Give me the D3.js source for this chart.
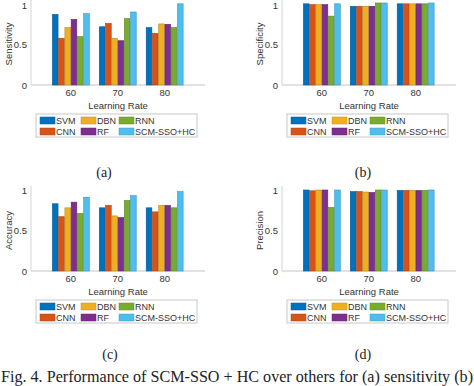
<!DOCTYPE html>
<html>
<head>
<meta charset="utf-8">
<script src="https://cdn.jsdelivr.net/npm/d3@7"></script>
<style>
	body { margin: 0; background: #fff; }
	svg { display: block; }
</style>
</head>
<body>
<div id="chart"></div>
<script>
// learning rates on the x axis
var rates = [60, 70, 80];
var methods = ["SVM", "CNN", "DBN", "RF", "RNN", "SCM-SSO+HC"];
var methodColors = ["#0072BD", "#D95319", "#EDB120", "#7E2F8E", "#77AC30", "#4DBEEE"];
var yTicks = [0, 0.5, 1];

// one row per learning rate, one value per method
var sensitivity = [
	[0.86, 0.57, 0.70, 0.80, 0.59, 0.87],
	[0.71, 0.75, 0.57, 0.54, 0.81, 0.89],
	[0.70, 0.63, 0.745, 0.74, 0.70, 0.99]
];
var specificity = [
	[0.99, 0.98, 0.98, 0.98, 0.84, 0.99],
	[0.96, 0.96, 0.96, 0.96, 1.0, 1.0],
	[0.99, 0.99, 0.99, 0.99, 0.99, 1.0]
];
var accuracy = [
	[0.83, 0.67, 0.78, 0.85, 0.71, 0.91],
	[0.78, 0.81, 0.68, 0.66, 0.87, 0.93],
	[0.78, 0.73, 0.81, 0.81, 0.78, 0.98]
];
var precision = [
	[1.0, 0.99, 1.0, 1.0, 0.785, 1.0],
	[0.98, 0.98, 0.975, 0.97, 1.0, 1.0],
	[0.995, 0.995, 0.995, 0.995, 0.995, 1.0]
];

var panelNames = ["Sensitivity", "Specificity", "Accuracy", "Precision"];
var panelTags = ["(a)", "(b)", "(c)", "(d)"];
var caption = "Fig. 4.   Performance of SCM-SSO + HC over others for (a) sensitivity (b)";

var width = 474, height = 386;
var sans = "'Liberation Sans', Arial, sans-serif";
var serif = "'Liberation Serif', 'Times New Roman', serif";

var svg = d3.select("#chart").append("svg")
	.attr("width", width)
	.attr("height", height);

var panels = [
	{data: sensitivity, left: 31, top: 3, bottom: 85, tagX: 104, tagY: 177},
	{data: specificity, left: 282, top: 3, bottom: 85, tagX: 363, tagY: 177},
	{data: accuracy, left: 31, top: 190, bottom: 271, tagX: 110, tagY: 359},
	{data: precision, left: 282, top: 190, bottom: 271, tagX: 363, tagY: 359}
];

panels.forEach(function(p, k) {
	drawPanel(p, panelNames[k], panelTags[k]);
});

svg.append("text")
	.attr("x", 1)
	.attr("y", 382)
	.attr("font-family", serif)
	.attr("font-size", "16px")
	.attr("fill", "#222")
	.attr("textLength", 472)
	.attr("lengthAdjust", "spacingAndGlyphs")
	.text(caption);

function drawPanel(p, name, tag) {
	var axW = 174;
	var x = d3.scaleLinear().domain([51.5, 88.6]).range([p.left, p.left + axW]);
	var y = d3.scaleLinear().domain([0, 1]).range([p.bottom, p.top]);
	var slot = 8 / methods.length;
	var g = svg.append("g");

	// axis lines
	g.append("line")
		.attr("x1", p.left).attr("x2", p.left + axW)
		.attr("y1", p.bottom).attr("y2", p.bottom)
		.attr("stroke", "#c4c4c4").attr("stroke-width", 1);
	g.append("line")
		.attr("x1", p.left).attr("x2", p.left)
		.attr("y1", p.bottom).attr("y2", p.top - 4)
		.attr("stroke", "#d4d4d4").attr("stroke-width", 1);

	// bars
	var groups = g.selectAll("g.grp")
		.data(p.data)
		.enter().append("g")
		.attr("class", "grp");

	groups.selectAll("rect")
		.data(function(d, gi) {
			return d.map(function(v, i) { return {rate: rates[gi], v: v, i: i}; });
		})
		.enter().append("rect")
		.attr("x", function(d) { return x(d.rate - 4 + d.i * slot) + 0.3; })
		.attr("width", function(d) { return x(d.rate - 4 + (d.i + 1) * slot) - x(d.rate - 4 + d.i * slot) - 0.6; })
		.attr("y", function(d) { return y(d.v); })
		.attr("height", function(d) { return y(0) - y(d.v); })
		.attr("fill", function(d) { return methodColors[d.i]; })
		.attr("stroke", function(d) { return d3.color(methodColors[d.i]).darker(0.7); })
		.attr("stroke-width", 0.6);

	// tick labels
	g.selectAll("text.xt")
		.data(rates)
		.enter().append("text")
		.attr("class", "xt")
		.attr("x", function(d) { return x(d); })
		.attr("y", p.bottom + 11)
		.attr("text-anchor", "middle")
		.attr("font-family", sans)
		.attr("font-size", "9.5px")
		.attr("fill", "#333")
		.text(function(d) { return d; });

	g.selectAll("text.yt")
		.data(yTicks)
		.enter().append("text")
		.attr("class", "yt")
		.attr("x", p.left - 4)
		.attr("y", function(d) { return Math.max(y(d) + 3.5, 8.5); })
		.attr("text-anchor", "end")
		.attr("font-family", sans)
		.attr("font-size", "9.5px")
		.attr("fill", "#333")
		.text(function(d) { return d; });

	g.append("text")
		.attr("x", p.left + axW / 2)
		.attr("y", p.bottom + 24)
		.attr("text-anchor", "middle")
		.attr("font-family", sans)
		.attr("font-size", "9.5px")
		.attr("fill", "#333")
		.text("Learning Rate");

	g.append("text")
		.attr("transform", "translate(" + (p.left - 19) + "," + ((p.top + p.bottom) / 2) + ") rotate(-90)")
		.attr("text-anchor", "middle")
		.attr("font-family", sans)
		.attr("font-size", "9.5px")
		.attr("fill", "#333")
		.text(name);

	// legend, 3 columns x 2 rows
	var lx = p.left + 5, ly = p.bottom + 29;
	g.append("rect")
		.attr("x", lx).attr("y", ly)
		.attr("width", 161).attr("height", 23)
		.attr("fill", "#fff")
		.attr("stroke", "#c8c8c8").attr("stroke-width", 1);

	var colX = [4, 45, 83];
	var items = g.selectAll("g.leg")
		.data(methods)
		.enter().append("g")
		.attr("class", "leg")
		.attr("transform", function(d, i) {
			return "translate(" + (lx + colX[Math.floor(i / 2)]) + "," + (ly + 3 + (i % 2) * 11) + ")";
		});
	items.append("rect")
		.attr("width", 15).attr("height", 7)
		.attr("fill", function(d, i) { return methodColors[i]; })
		.attr("stroke", function(d, i) { return d3.color(methodColors[i]).darker(0.5); })
		.attr("stroke-width", 0.5);
	items.append("text")
		.attr("x", 16)
		.attr("y", 7)
		.attr("font-family", sans)
		.attr("font-size", "9px")
		.attr("fill", "#333")
		.text(function(d) { return d; });

	svg.append("text")
		.attr("x", p.tagX)
		.attr("y", p.tagY)
		.attr("text-anchor", "middle")
		.attr("font-family", serif)
		.attr("font-size", "14px")
		.attr("fill", "#222")
		.text(tag);
}
</script>
</body>
</html>
